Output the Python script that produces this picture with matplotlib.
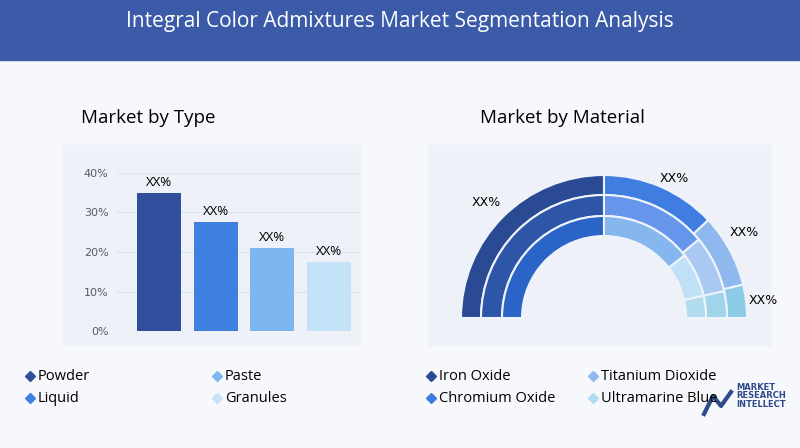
import numpy as np
import matplotlib
matplotlib.use("Agg")
import matplotlib.pyplot as plt
from matplotlib.patches import Wedge, Rectangle

W, H = 800, 448

# ---- data ----
type_labels = ["Powder", "Paste", "Liquid", "Granules"]
type_values = [35, 27.5, 21, 17.5]
type_colors = ["#2f4f9c", "#3f7fe0", "#7cb6f0", "#c4e2f8"]
bar_ticks = [0, 10, 20, 30, 40]

mat_labels = ["Iron Oxide", "Titanium Dioxide", "Chromium Oxide", "Ultramarine Blue"]
# per ring shares of the half circle (outer, middle, inner); order: iron, chromium, titanium, ultramarine
ring_shares = [
    [50, 26, 16.5, 7.5],
    [50, 28, 15, 7],
    [50, 29, 14, 7],
]
ring_colors = [
    ["#2b4a94", "#3f7de0", "#8fb8ee", "#8ccbe6"],
    ["#2d55a8", "#6596ec", "#a9c9f3", "#a0d4ea"],
    ["#2a64c8", "#86b6ee", "#c0e0f6", "#b0dcee"],
]
ring_radii = [(123, 143), (102, 123), (82, 102)]
mat_pct_labels = ["XX%", "XX%", "XX%", "XX%"]

fig = plt.figure(figsize=(W / 100, H / 100), dpi=100)
fig.patch.set_facecolor("#ffffff")

def px_axes(x0, y0, x1, y1):
    # pixel box (top-left origin) -> figure axes
    return fig.add_axes([x0 / W, 1 - y1 / H, (x1 - x0) / W, (y1 - y0) / H])

# ---- background + header ----
bg = px_axes(0, 0, W, H)
bg.set_xlim(0, W); bg.set_ylim(H, 0); bg.axis("off")
bg.add_patch(Rectangle((0, 0), W, 60, color="#3b5ba8"))
bg.text(W / 2, 22, "Integral Color Admixtures Market Segmentation Analysis",
        color="white", fontsize=15, ha="center", va="center", family="Open Sans")
bg.add_patch(Rectangle((0, 60), W, H - 60, color="#f7f8fc", zorder=0))
bg.add_patch(Rectangle((63, 145), 297, 200, color="#eef1f8", zorder=1))
bg.add_patch(Rectangle((428, 145), 343, 200, color="#eef1f8", zorder=1))
bg.text(148, 118, "Market by Type", fontsize=13.5, ha="center", va="center", family="Open Sans")
bg.text(562, 118, "Market by Material", fontsize=13.5, ha="center", va="center", family="Open Sans")

# legends
def legend_row(x, y, label, color):
    bg.plot(x, y, marker="D", ms=5.5, color=color, zorder=3)
    bg.text(x + 8, y, label, fontsize=10.5, va="center", family="Open Sans", zorder=3)

legend_row(30, 376, type_labels[0], type_colors[0])
legend_row(217, 376, type_labels[1], type_colors[2])
legend_row(30, 398, type_labels[2], type_colors[1])
legend_row(217, 398, type_labels[3], type_colors[3])
legend_row(431, 376, mat_labels[0], ring_colors[0][0])
legend_row(593, 376, mat_labels[1], ring_colors[0][2])
legend_row(431, 398, mat_labels[2], ring_colors[0][1])
legend_row(593, 398, mat_labels[3], ring_colors[2][3])

bg.text(736, 396, "MARKET\nRESEARCH\nINTELLECT", fontsize=6, fontweight="bold",
        color="#2d4a8a", va="center", linespacing=0.95)
bg.plot([704, 713, 721, 731], [414, 396, 406, 392], color="#2d4a8a", lw=3)

# ---- bar chart ----
ax = px_axes(117, 173, 360, 331)
x = np.arange(len(type_values))
ax.bar(x, type_values, width=0.78, color=type_colors, zorder=2)
for xi, v in zip(x, type_values):
    ax.text(xi, v + 1, "XX%", ha="center", va="bottom", fontsize=9.5, family="Open Sans")
ax.set_ylim(0, 40)
ax.set_xlim(-0.75, 3.55)
ax.set_yticks(bar_ticks)
ax.set_yticklabels([f"{t}%" for t in bar_ticks], fontsize=8, color="#555a66")
ax.set_xticks([])
ax.grid(axis="y", color="#dde2ee", lw=0.8, zorder=0)
for s in ax.spines.values():
    s.set_visible(False)
ax.tick_params(length=0, pad=6)
ax.set_facecolor("none")

# ---- half donut ----
cx, cy = 604, 318
dax = px_axes(0, 0, W, H)
dax.set_xlim(0, W); dax.set_ylim(H, 0); dax.axis("off"); dax.set_aspect("equal")
for shares, colors, (r0, r1) in zip(ring_shares, ring_colors, ring_radii):
    a = 180.0
    for s, c in zip(shares, colors):
        span = 180.0 * s / sum(shares)
        # y axis is inverted: angle theta in screen -> use negative angles
        dax.add_patch(Wedge((cx, cy), r1, -a, -(a - span), width=r1 - r0,
                            facecolor=c, edgecolor="#eef3fb", lw=1.5))
        a -= span
dax.text(486, 203, mat_pct_labels[0], fontsize=9, ha="center", va="center")
dax.text(674, 178, mat_pct_labels[1], fontsize=9, ha="center", va="center")
dax.text(744, 232, mat_pct_labels[2], fontsize=9, ha="center", va="center")
dax.text(763, 300, mat_pct_labels[3], fontsize=9, ha="center", va="center")

fig.savefig("out.png", dpi=100)
